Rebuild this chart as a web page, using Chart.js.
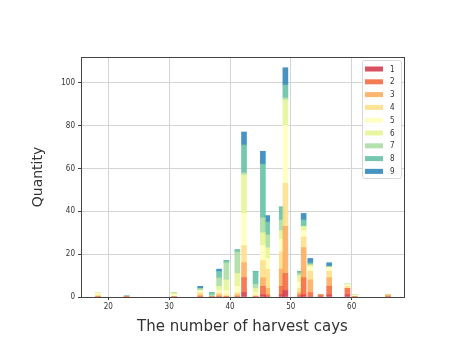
<!DOCTYPE html>
<html>
<head>
<meta charset="utf-8">
<script src="https://cdn.jsdelivr.net/npm/chart.js@4"></script>
<style>
html,body{margin:0;padding:0;background:#fff;}
#c{display:block;}
</style>
</head>
<body>
<canvas id="c" width="474" height="361"></canvas>
<script>
// Harvest day positions (x) for each bar
const days = [18.3, 23, 30.8, 35.1, 37, 38.2, 39.4, 41.2, 42.3, 44.2, 45.4, 46.1, 48.5, 49.1, 51.5, 52.1, 53.2, 54.9, 56.3, 59.3, 60.5, 66];
// Series labels
const seriesLabels = ["1", "2", "3", "4", "5", "6", "7", "8", "9"];
// Stacked quantities per series
const s1 = [0,0,0,0,0,0,0,0,2,0,1,0,1,3,0,1,0,0,1,1,0,0];
const s2 = [0,0,0,0,0,0,0,0,7,0,4,1,4,8,1,8,2,1,4,3,0,0];
const s3 = [0,0,0,1,0,1,0,1,7,0,4,3,8,22,1,14,6,0,4,0,0,1];
const s4 = [1,0,0,1,0,1,1,1,8,1,8,9,8,20,2,5,4,0,3,1,0,0];
const s5 = [1,0,1,1,0,1,2,3,15,1,7,5,6,27,3,3,2,0,2,1,1,0];
const s6 = [0,0,1,0,0,2,5,6,18,2,6,5,4,12,3,2,1,0,0,0,0,0];
const s7 = [0,0.5,0,1,1,4,8,10,1,2,7,6,5,1,1,0,0,0,0,0,0,0];
const s8 = [0,0,0,0,1,3,1,1,13,6,25,6,6,6,1,3,1,0,0,0,0,0];
const s9 = [0,0,0,1,0,1,0,0,6,0,6,3,0,8,0,3,2,0,2,0,0,0];
// Tick values
const xTicks = [20, 30, 40, 50, 60];
const yTicks = [0, 20, 40, 60, 80, 100];

const series = [s1, s2, s3, s4, s5, s6, s7, s8, s9];
const colors = ["#d53e4f", "#f46d43", "#fdae61", "#fee08b", "#ffffbf", "#e6f598", "#abdda4", "#66c2a5", "#3288bd"];

function hexA(h, a) {
  const r = parseInt(h.slice(1,3),16), g = parseInt(h.slice(3,5),16), b = parseInt(h.slice(5,7),16);
  return `rgba(${r},${g},${b},${a})`;
}

const datasets = series.map((vals, i) => ({
  label: seriesLabels[i],
  data: days.map((d, j) => ({x: d, y: vals[j]})),
  backgroundColor: hexA(colors[i], 0.9),
  borderWidth: 0,
  barThickness: 5
}));

const TICK_FONT = {family: "'DejaVu Sans Condensed', 'DejaVu Sans'", size: 8};

const customLegend = {
  id: 'customLegend',
  afterDraw(chart) {
    const ctx = chart.ctx;
    const bx = 362, by = 60, bw = 39, bh = 118;
    ctx.save();
    ctx.fillStyle = 'rgba(255,255,255,0.85)';
    ctx.strokeStyle = '#d8d8d8';
    ctx.lineWidth = 1;
    ctx.beginPath();
    if (ctx.roundRect) ctx.roundRect(bx + 0.5, by + 0.5, bw, bh, 2); else ctx.rect(bx + 0.5, by + 0.5, bw, bh);
    ctx.fill();
    ctx.stroke();
    ctx.font = "8px 'DejaVu Sans Condensed', 'DejaVu Sans'";
    ctx.textBaseline = 'middle';
    ctx.textAlign = 'left';
    chart.data.datasets.forEach((ds, i) => {
      const cy = 69 + i * 12.8;
      ctx.fillStyle = ds.backgroundColor;
      ctx.fillRect(365, cy - 2.5, 18, 5);
      ctx.fillStyle = '#333';
      ctx.fillText(ds.label, 390, cy + 0.5);
    });
    ctx.restore();
  }
};

const frame = {
  id: 'frame',
  afterDatasetsDraw(chart) {
    const a = chart.chartArea, ctx = chart.ctx;
    ctx.save();
    ctx.strokeStyle = '#444';
    ctx.lineWidth = 1;
    ctx.strokeRect(Math.round(a.left) + 0.5, Math.round(a.top) + 0.5, Math.round(a.right - a.left), Math.round(a.bottom - a.top));
    ctx.restore();
  }
};

new Chart(document.getElementById('c'), {
  type: 'bar',
  data: { datasets },
  options: {
    responsive: false,
    animation: false,
    layout: { padding: { left: 30, right: 70, top: 57, bottom: 22 } },
    plugins: { legend: { display: false }, tooltip: { enabled: false } },
    scales: {
      x: {
        type: 'linear',
        stacked: true,
        offset: false,
        min: 15.5,
        max: 68.6,
        afterBuildTicks(scale) { scale.ticks = xTicks.map(v => ({value: v})); },
        afterFit(scale) { scale.height = 42; },
        ticks: { font: TICK_FONT, color: '#333', padding: 2, includeBounds: false },
        grid: { color: '#d4d4d4', tickColor: '#444', tickLength: 3, offset: false },
        border: { display: true, color: '#444' },
        title: { display: true, text: 'The number of harvest cays', color: '#333',
                 font: { family: "'DejaVu Sans', sans-serif", size: 15 }, padding: { top: 0, bottom: 3 } }
      },
      y: {
        stacked: true,
        min: 0,
        max: 112,
        afterBuildTicks(scale) { scale.ticks = yTicks.map(v => ({value: v})); },
        afterFit(scale) { scale.width = 51; },
        ticks: { font: TICK_FONT, color: '#333', padding: 3, includeBounds: false },
        grid: { color: '#d4d4d4', tickColor: '#444', tickLength: 3 },
        border: { display: true, color: '#444' },
        title: { display: true, text: 'Quantity', color: '#333',
                 font: { family: "'DejaVu Sans', sans-serif", size: 14 }, padding: { top: 0, bottom: 0 } }
      }
    }
  },
  plugins: [customLegend, frame]
});
</script>
</body>
</html>
